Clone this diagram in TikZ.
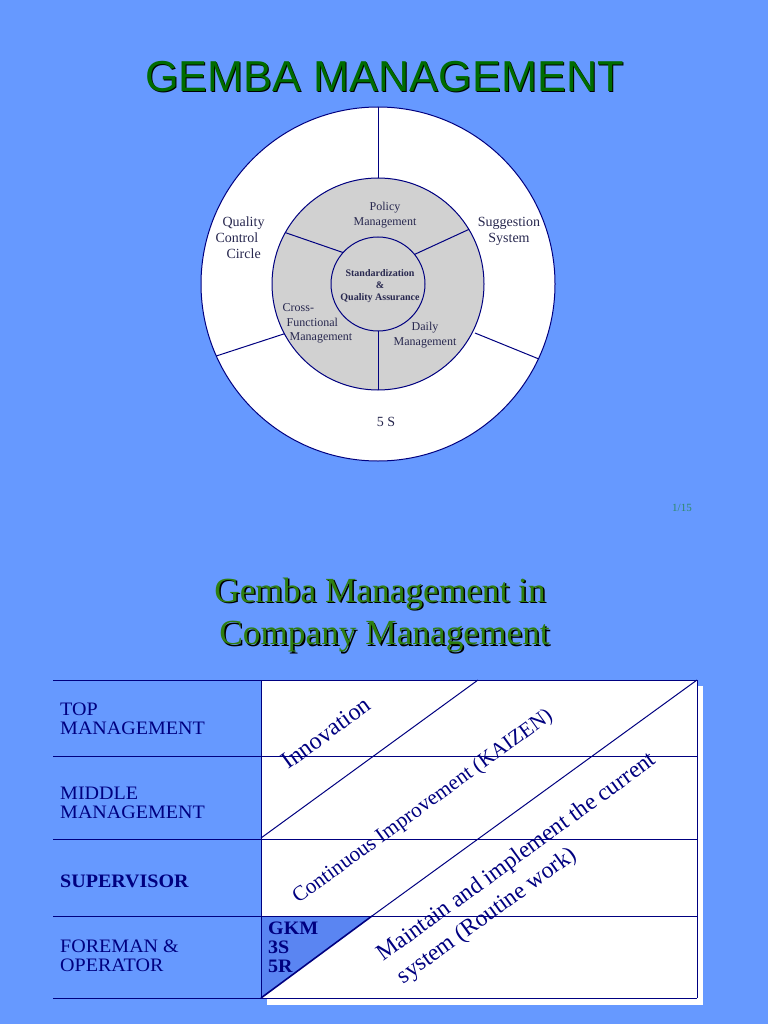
\documentclass[tikz,border=0pt]{standalone}
\usepackage{fontspec}
\setmainfont{Liberation Serif}
\newfontfamily\titlefont{Liberation Sans}
\newfontfamily\levelfont[FakeStretch=1.055]{Liberation Serif}
\definecolor{bgblue}{HTML}{6699FF}
\definecolor{navyline}{HTML}{000080}
\definecolor{ringtext}{HTML}{28284F}
\definecolor{titlegreen}{HTML}{006C00}
\definecolor{subgreen}{HTML}{2F7F10}
\definecolor{pagegreen}{HTML}{2F8A68}
\definecolor{wedgeblue}{HTML}{5A85F2}
\tikzset{
    ring/.style={draw=navyline, line width=1pt, circle, inner sep=0pt, outer sep=0pt},
    spoke/.style={draw=navyline, line width=1pt},
    rule/.style={draw=navyline, line width=1pt},
    ringlabel/.style={text=ringtext, align=center, font=\fontsize{12}{14.5}\selectfont},
    bigringlabel/.style={ringlabel, font=\fontsize{14}{16}\selectfont},
    levellabel/.style={text=navyline, anchor=west, align=left, inner sep=0pt, font=\levelfont\fontsize{19}{19}\selectfont},
    boldlabel/.style={levellabel, font=\levelfont\bfseries\fontsize{19}{19}\selectfont},
    slantlabel/.style={text=navyline, rotate=36, align=center},
}
\begin{document}
\begin{tikzpicture}[x=1pt, y=-1pt]
    \fill[bgblue] (0,0) rectangle (768,1024);
    \useasboundingbox (0,0) rectangle (768,1024);
    % Titles
    \node[text=black, font=\titlefont\fontsize{43.3}{44}\selectfont] (titleback) at (385.5,78) {GEMBA MANAGEMENT};
    \node[text=titlegreen, font=\titlefont\fontsize{43.3}{44}\selectfont] (title) at (384.5,77) {GEMBA MANAGEMENT};
    \node[text=black, align=left, font=\fontsize{35.3}{42.5}\selectfont] (subtitleback) at (383.5,616.5) {Gemba Management in\\\hspace{5pt}Company Management};
    \node[text=subgreen, align=left, font=\fontsize{35.3}{42.5}\selectfont] (subtitle) at (382,615) {Gemba Management in\\\hspace{5pt}Company Management};
    \node[text=pagegreen, font=\fontsize{11}{12}\selectfont] (pageno) at (682,508) {1/15};
    % Draw the circles
    \node[ring, fill=white, minimum size=354pt] (outerring) at (378,284) {};
    \node[ring, fill=black!18, minimum size=212pt] (midring) at (378,284) {};
    \node[ring, fill=black!18, minimum size=94pt] (innerring) at (378,284) {};
    \coordinate (spokefree) at (475,333);
    \draw[spoke] (outerring.north) -- (midring.north);
    \draw[spoke] (innerring.south) -- (midring.south);
    \draw[spoke] (midring.31) -- (innerring.39);
    \draw[spoke] (midring.151) -- (innerring.138);
    \draw[spoke] (outerring.204.5) -- (midring.208);
    \draw[spoke] (spokefree) -- (outerring.-25.3);
    % Labels in the rings
    \node[ringlabel] (policy) at (385,215) {Policy\\Management};
    \node[bigringlabel] (suggestion) at (509,231.5) {Suggestion\\System};
    \node[bigringlabel, align=left] (qcc) at (240,238) {\hspace{7pt}Quality\\Control\\\hspace{11pt}Circle};
    \node[ringlabel, align=left] (crossfn) at (317.5,323.5) {Cross-\\\hspace{4pt}Functional\\\hspace{7pt}Management};
    \node[ringlabel] (daily) at (425,335) {Daily\\Management};
    \node[bigringlabel] (fives) at (386,421.5) {5 S};
    \node[text=ringtext, align=center, font=\bfseries\fontsize{10}{12}\selectfont] (stdqa) at (380,286) {Standardization\\\&\\Quality Assurance};
    % Table
    \fill[white] (267,686) rectangle (703,1005);
    \fill[white] (261,680) rectangle (697,998);
    \coordinate (wedgetop) at (372,916);
    \coordinate (wedgecorner) at (261,916);
    \coordinate (wedgefoot) at (261,998);
    \coordinate (innovfoot) at (261,838);
    \coordinate (innovtop) at (478,680);
    \coordinate (routinetop) at (697,680);
    \fill[wedgeblue] (wedgecorner) -- (wedgetop) -- (wedgefoot) -- cycle;
    \foreach \y in {680,756,839,916,998} {
        \coordinate (rulel\y) at (53,\y);
        \coordinate (ruler\y) at (697,\y);
        \draw[rule] (rulel\y) -- (ruler\y);
    }
    \coordinate (framel) at (261,680);
    \draw[rule] (framel) -- (wedgefoot);
    \draw[rule] (routinetop) -- (ruler998);
    \draw[rule] (innovfoot) -- (innovtop);
    \draw[rule] (wedgetop) -- (routinetop);
    \draw[rule, line width=1.6pt] (wedgetop) -- (wedgefoot);
    % Add level names
    \foreach \y/\name/\txt in {719/top/{TOP\\MANAGEMENT}, 802.5/middle/{MIDDLE\\MANAGEMENT}, 955.5/foreman/{FOREMAN \&\\OPERATOR}} {
        \node[levellabel] (\name) at (60,\y) {\txt};
    }
    \node[boldlabel] (supervisor) at (60,881) {SUPERVISOR};
    \node[boldlabel] (gemba) at (268,947) {GKM\\3S\\5R};
    % Slanted texts
    \node[slantlabel, font=\fontsize{24}{26}\selectfont] (innovation) at (326,733) {Innovation};
    \node[slantlabel, font=\fontsize{21.2}{24}\selectfont] (kaizen) at (423,807) {Continuous Improvement (KAIZEN)};
    \node[slantlabel, align=left, font=\fontsize{23.5}{30}\selectfont] (routine) at (526,870) {Maintain and implement the current\\\hspace{3pt}system (Routine work)};
\end{tikzpicture}
\end{document}
